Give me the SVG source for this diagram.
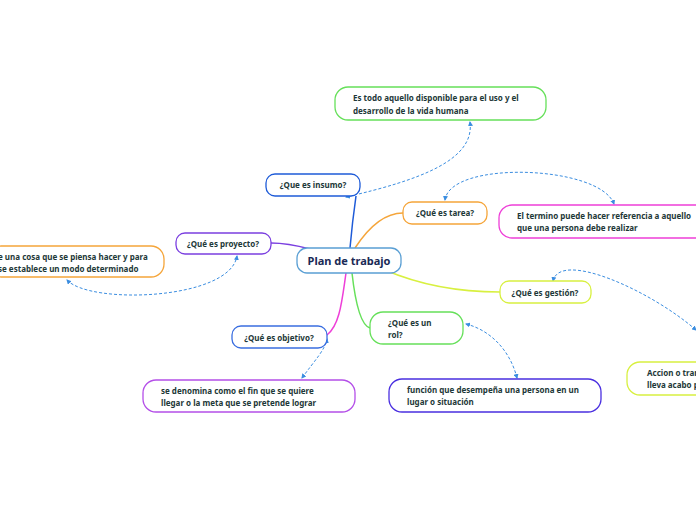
<svg xmlns="http://www.w3.org/2000/svg" width="696" height="520" viewBox="0 0 696 520">
<defs>
<marker id="a" viewBox="0 0 10 10" refX="8" refY="5" markerWidth="5" markerHeight="5" orient="auto-start-reverse"><path d="M0,0L10,5L0,10z" fill="#3a8de0"/></marker>
<style>
.n{fill:#fff;stroke-width:1.3}
.t{font-family:"Noto Sans",sans-serif;font-size:8px;font-weight:bold;fill:#1d3838}
.c{fill:none;stroke-width:1.5}
.d{fill:none;stroke:#3a8de0;stroke-width:1;stroke-dasharray:3 2;marker-start:url(#a);marker-end:url(#a)}
</style>
</defs>
<rect width="696" height="520" fill="#fff"/>
<g id="connectors">
<path class="c" stroke="#1e5bd8" d="M350,248 C352,225 354,210 356,196"/>
<path class="c" stroke="#f5a53a" d="M355,248 C370,225 385,213 403,213"/>
<path class="c" stroke="#7b3fe0" d="M310,249 C295,245 285,243 271,243"/>
<path class="c" stroke="#d8f040" d="M385,270 C420,285 460,292 500,292"/>
<path class="c" stroke="#66e05a" d="M352,273 C355,300 360,325 370,328"/>
<path class="c" stroke="#ee3fd8" d="M346,273 C342,300 340,325 327,335"/>
<path class="d" d="M470,122 C475,160 420,180 346,197"/>
<path class="d" d="M445,200 C450,160 600,165 614,204"/>
<path class="d" d="M67,280 C90,305 230,300 237,256"/>
<path class="d" d="M553,281 C560,250 650,290 696,330"/>
<path class="d" d="M517,378 C510,350 490,330 466,324"/>
<path class="d" d="M302,378 C315,360 325,350 327,339"/>
</g>
<g id="center"><rect class="n" x="297" y="248" width="104" height="25" rx="10" stroke="#5a9fd4"/><text x="349" y="264.5" text-anchor="middle" class="t" style="font-size:11px;fill:#1a2a55">Plan de trabajo</text></g>
<g id="insumo"><rect class="n" x="266" y="174" width="94" height="22" rx="9" stroke="#1e5bd8"/><text x="313" y="188" text-anchor="middle" class="t">¿Que es insumo?</text></g>
<g id="insumo-desc"><rect class="n" x="335" y="87" width="211" height="33" rx="13" stroke="#66e05a"/><text x="353" y="101" class="t">Es todo aquello disponible para el uso y el</text><text x="353" y="114" class="t">desarrollo de la vida humana</text></g>
<g id="tarea"><rect class="n" x="403" y="202" width="84" height="22" rx="9" stroke="#f5a53a"/><text x="445" y="216" text-anchor="middle" class="t">¿Qué es tarea?</text></g>
<g id="tarea-desc"><rect class="n" x="499" y="205" width="210" height="33" rx="13" stroke="#ee3fd8"/><text x="517" y="219" class="t">El termino puede hacer referencia a aquello</text><text x="517" y="231" class="t">que una persona debe realizar</text></g>
<g id="proyecto"><rect class="n" x="176" y="233" width="95" height="21" rx="9" stroke="#7b3fe0"/><text x="223" y="247" text-anchor="middle" class="t">¿Qué es proyecto?</text></g>
<g id="proyecto-desc"><rect class="n" x="-12" y="246" width="176" height="31" rx="13" stroke="#f5a53a"/><text x="-2" y="260" class="t">e una cosa que se piensa hacer y para</text><text x="-2" y="272" class="t">se establece un modo determinado</text></g>
<g id="gestion"><rect class="n" x="500" y="281" width="91" height="22" rx="9" stroke="#d8f040"/><text x="545" y="296" text-anchor="middle" class="t">¿Qué es gestión?</text></g>
<g id="gestion-desc"><rect class="n" x="627" y="362" width="100" height="33" rx="13" stroke="#d8f040"/><text x="647" y="376" class="t">Accion o tran</text><text x="647" y="388" class="t">lleva acabo p</text></g>
<g id="rol"><rect class="n" x="370" y="312" width="93" height="32" rx="13" stroke="#66e05a"/><text x="388" y="326" class="t">¿Qué es un</text><text x="388" y="338" class="t">rol?</text></g>
<g id="objetivo"><rect class="n" x="232" y="326" width="95" height="22" rx="9" stroke="#3a6ee0"/><text x="279" y="341" text-anchor="middle" class="t">¿Qué es objetivo?</text></g>
<g id="objetivo-desc"><rect class="n" x="143" y="380" width="212" height="32" rx="13" stroke="#b44fe8"/><text x="161" y="394" class="t">se denomina como el fin que se quiere</text><text x="161" y="406" class="t">llegar o la meta que se pretende lograr</text></g>
<g id="rol-desc"><rect class="n" x="389" y="379" width="212" height="33" rx="13" stroke="#4a2fe0"/><text x="407" y="393" class="t">función que desempeña una persona en un</text><text x="407" y="405" class="t">lugar o situación</text></g>
</svg>
